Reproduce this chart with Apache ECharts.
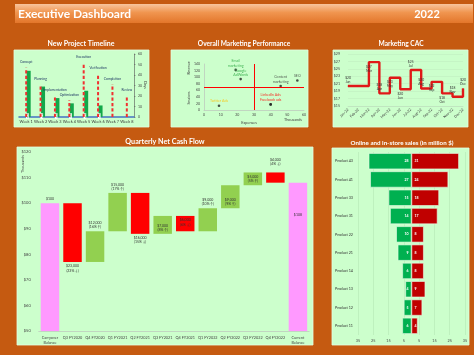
<!DOCTYPE html>
<html><head><meta charset="utf-8">
<script src="https://cdn.jsdelivr.net/npm/echarts@6/dist/echarts.min.js"></script>
<style>html,body{margin:0;padding:0;background:#c55a11;}#c{width:474px;height:355px;}</style>
</head><body><div id="c"></div><script>
// ---------- DATA ----------
const weeks = ['Week 1','Week 2','Week 3','Week 4','Week 5','Week 6','Week 7','Week 8'];
const phases = ['Concept','Planning','Implementation','Optimization','Execution','Verification','Completion','Review'];
const phaseMarks = [47, 30, 20, 16, 51, 41, 31, 19];
const weekProgress = [44, 29, 18, 13, 25, 11, null, null];

const channels = ['Email\nmarketing','Google\nAdWords','Content\nmarketing','SEO','LinkedIn Ads','Facebook ads','Twitter Ads'];
const channelExpenses = [19, 22, 46, 56, 40, 40, 9];
const channelRevenue = [122, 94, 73, 90, 17, 17, 13];

const months = ['Jan-22','Feb-22','Mar-22','Apr-22','May-22','Jun-22','Jul-22','Aug-22','Sep-22','Oct-22','Nov-22','Dec-22'];
const cac = [20.4, 20.4, 26.8, 18.4, 22.6, 19.5, 24.7, 19.7, 21.5, 18.4, 17.5, 19.7];

const quarters = ['Carryover\nBalance','Q3 FY2020','Q4 FY2020','Q1 FY2021','Q2 FY2021','Q3 FY2021','Q4 FY2021','Q1 FY2022','Q2 FY2022','Q3 FY2022','Q4 FY2022','Current\nBalance'];
const carryover = 100;
const cashDeltas = [-23, 12, 15, -16, 7, -6, 9, 9, 5, -4];

const products = ['Product 43','Product 41','Product 33','Product 31','Product 22','Product 21','Product 14','Product 13','Product 12','Product 11'];
const onlineSales = [28, 27, 15, 14, 10, 9, 6, 4, 5, 6];
const storeSales = [31, 24, 18, 17, 8, 8, 8, 9, 7, 4];

// ---------- BUILD ----------
const F = 'Lato, "Open Sans", "DejaVu Sans", sans-serif';
const chart = echarts.init(document.getElementById('c'), null, {renderer:'canvas', width:474, height:355});

// waterfall
const totals = [carryover];
cashDeltas.forEach(d => totals.push(totals[totals.length-1] + d));
const current = totals[totals.length-1];
const wfBase = [0], wfSize = [carryover], wfColor = ['#ff99ff'];
cashDeltas.forEach((d,i) => {
  wfBase.push(Math.min(totals[i], totals[i+1]));
  wfSize.push(Math.abs(d));
  wfColor.push(d < 0 ? '#ff0000' : '#92d050');
});
wfBase.push(0); wfSize.push(current); wfColor.push('#ff99ff');
const wfLabelPos = ['top','bottom','top','top','bottom','insideBottom','insideTop','top','insideBottom','insideBottom','top','insideTop'];
const wfText = i => {
  if (i === 0) return '$' + carryover;
  if (i === quarters.length-1) return '$' + current;
  const d = cashDeltas[i-1];
  const pct = Math.round(Math.abs(d) / totals[i-1] * 100);
  return '$' + Math.abs(d) + ',000\n(' + pct + '% ' + (d < 0 ? '↓' : '↑') + ')';
};

const channelColors = ['#22a33a','#22a33a','#333333','#333333','#ff0000','#ff0000','#ffc000'];
const channelDist = [1, 1, 1, 1, 6, 1.5, 1];
const cacLabelPos = ['top', null, 'bottom','top','bottom','bottom','top','top','bottom','bottom','top','top'];

function txt(t, x, y, size, color, opts) {
  opts = opts || {};
  return {type:'text', x:x, y:y, rotation: opts.rot || 0, z: 5,
    style:{text:t, fill:color, fontSize:size, fontWeight: opts.bold ? 'bold' : 'normal', fontFamily:F,
      align:'center', verticalAlign:'middle', textAlign:'center', textVerticalAlign:'middle'}};
}
function panel(x, y, w, h) {
  return {type:'rect', shape:{x:x, y:y, width:w, height:h}, z:0,
    style:{fill:'#ccffcc', stroke:'#e3ffe3', lineWidth:0.8}};
}

const small = {fontFamily:F, color:'#444'};

const option = {
  backgroundColor:'#c55a11',
  animation:false,
  textStyle:{fontFamily:F},
  graphic:[
    {type:'rect', shape:{x:15, y:4, width:458, height:19}, z:0,
      style:{fill:new echarts.graphic.LinearGradient(0,0,0,1,[
        {offset:0, color:'#f8c49c'},{offset:0.45, color:'#f0954f'},{offset:1, color:'#e3762b'}])}},
    {type:'text', x:18, y:14, z:5, style:{text:'Executive Dashboard', fill:'#fff', fontSize:12, fontWeight:'bold', fontFamily:F, align:'left', verticalAlign:'middle', textAlign:'left', textVerticalAlign:'middle'}},
    txt('2022', 427, 14, 11, '#fff', {bold:true}),
    panel(14, 50, 135, 77),
    panel(171, 50, 137, 77),
    panel(333, 50, 135, 77),
    panel(17, 147, 296, 198),
    panel(332, 148, 137, 197),
    txt('New Project Timeline', 81, 44, 7, '#fff', {bold:true}),
    txt('Overall Marketing Performance', 244, 44, 6.6, '#fff', {bold:true}),
    txt('Marketing CAC', 401, 44, 6.6, '#fff', {bold:true}),
    txt('Quarterly Net Cash Flow', 165, 142, 7.2, '#fff', {bold:true}),
    txt('Online and in-store sales (in million $)', 402, 143, 6.2, '#fff', {bold:true}),
    txt('Days', 145, 85, 3.5, '#444', {rot:-Math.PI/2}),
    txt('Revenue', 189, 68, 3.5, '#444', {rot:Math.PI/2}),
    txt('Sessions', 189, 98, 3.5, '#444', {rot:Math.PI/2}),
    txt('Expenses', 249, 123, 3.8, '#444'),
    txt('Thousands', 293, 120, 3.8, '#444'),
    txt('Thousands', 23, 164, 3.8, '#444', {rot:Math.PI/2})
  ],
  grid:[
    {left:19, top:54, width:115, height:63},
    {left:204, top:64, width:100, height:46},
    {left:348, top:54, width:115, height:52},
    {left:38.7, top:152, width:270.5, height:179},
    {left:358, top:152, width:107, height:183}
  ],
  xAxis:[
    {gridIndex:0, type:'category', data:weeks, axisTick:{show:false},
      axisLine:{lineStyle:{color:'#4472c4', width:1.5}},
      axisLabel:{fontSize:3.9, margin:3, interval:0, color:'#333', fontFamily:F}},
    {gridIndex:1, type:'value', min:0, max:60, interval:10, splitLine:{show:false},
      axisLine:{show:true, onZero:false, lineStyle:{color:'#bbb', width:0.6}}, axisTick:{show:false},
      axisLabel:Object.assign({fontSize:3.5, margin:3}, small)},
    {gridIndex:2, type:'category', data:months, boundaryGap:false, axisTick:{show:false},
      axisLine:{lineStyle:{color:'#bcdcbc', width:0.6}},
      axisLabel:Object.assign({fontSize:3.6, margin:3, rotate:45, interval:0}, small)},
    {gridIndex:3, type:'category', data:quarters, axisTick:{show:false},
      axisLine:{lineStyle:{color:'#bbb', width:0.6}},
      axisLabel:Object.assign({fontSize:3.8, margin:4, interval:0, lineHeight:5}, small)},
    {gridIndex:4, type:'value', min:-35, max:35, interval:10,
      axisLine:{show:false}, axisTick:{show:false},
      splitLine:{show:true, lineStyle:{color:'#b6e8b6', width:0.6}},
      axisLabel:Object.assign({fontSize:3.8, margin:4, formatter:v => Math.abs(v)}, small)}
  ],
  yAxis:[
    {gridIndex:0, type:'value', position:'right', min:0, max:60, interval:10, splitLine:{show:false},
      axisLine:{show:true, lineStyle:{color:'#555', width:0.6}}, axisTick:{show:true, length:1.5, lineStyle:{color:'#555', width:0.5}},
      axisLabel:Object.assign({fontSize:3.5, margin:4}, small)},
    {gridIndex:1, type:'value', min:0, max:140, interval:20, splitLine:{show:false},
      axisLine:{show:true, onZero:false, lineStyle:{color:'#bbb', width:0.6}}, axisTick:{show:false},
      axisLabel:Object.assign({fontSize:3.5, margin:4}, small)},
    {gridIndex:2, type:'value', min:15, max:29, interval:2,
      splitLine:{show:true, lineStyle:{color:'#bfeabf', width:0.5}}, axisLine:{show:false}, axisTick:{show:false},
      axisLabel:Object.assign({fontSize:3.6, margin:8, formatter:v => '$' + v}, small)},
    {gridIndex:3, type:'value', min:50, max:120, interval:10, splitLine:{show:false},
      axisLine:{show:false}, axisTick:{show:false},
      axisLabel:Object.assign({fontSize:4, margin:8, formatter:v => '$' + v}, small)},
    {gridIndex:4, type:'category', data:products, inverse:true,
      axisLine:{show:false, onZero:false}, axisTick:{show:false},
      axisLabel:{fontSize:3.7, margin:5, color:'#333', fontFamily:F}}
  ],
  series:[
    // Timeline
    {type:'pictorialBar', xAxisIndex:0, yAxisIndex:0, data:phaseMarks, symbol:'rect',
      symbolRepeat:true, symbolSize:[2, 3.2], symbolMargin:1.3, symbolClip:true, symbolPosition:'start',
      itemStyle:{color:'#f03030'}, z:3,
      label:{show:true, position:'top', distance:1, fontSize:3.4, color:'#1f3864', fontFamily:F,
        formatter:p => phases[p.dataIndex]}},
    {type:'bar', xAxisIndex:0, yAxisIndex:0, data:weeks.map(() => null), barWidth:5, barGap:'0%'},
    {type:'bar', xAxisIndex:0, yAxisIndex:0, data:weekProgress, barWidth:4, barGap:'0%',
      itemStyle:{color:'#12a84a'},
      label:{show:true, position:'insideBottom', rotate:90, distance:1, fontSize:2.4, color:'#12a84a',
        backgroundColor:'#ffffff', padding:[0.3,0.5], fontFamily:F, formatter:p => p.value + ' d'}},
    // Scatter
    {type:'scatter', xAxisIndex:1, yAxisIndex:1, symbolSize:2.6,
      itemStyle:{color:'#222'},
      data:channelExpenses.map((x,i) => ({value:[x, channelRevenue[i]], name:channels[i],
        label:{color:channelColors[i], distance:channelDist[i]}})),
      label:{show:true, position:'top', fontSize:3.6, lineHeight:4.3, fontFamily:F, formatter:p => p.name},
      markLine:{silent:true, symbol:'none', label:{show:false}, animation:false,
        lineStyle:{color:'#ff0000', width:1, type:'solid'},
        data:[{yAxis:70},{xAxis:30}]}},
    // CAC step line
    {type:'line', xAxisIndex:2, yAxisIndex:2, step:'end', data:cac.map((v,i) => ({value:v,
        label:cacLabelPos[i] ? {show:true, position:cacLabelPos[i]} : {show:false}})),
      symbol:'circle', symbolSize:1, itemStyle:{color:'#e01818'},
      lineStyle:{color:'#e01818', width:2.4},
      label:{fontSize:3.3, lineHeight:3.9, color:'#333', fontFamily:F, distance:2,
        formatter:p => '$' + Math.round(p.value) + '\n' + months[p.dataIndex].slice(0,3)}},
    // Waterfall
    {type:'bar', xAxisIndex:3, yAxisIndex:3, stack:'wf', data:wfBase, barWidth:'82%',
      itemStyle:{color:'rgba(0,0,0,0)'}, silent:true},
    {type:'bar', xAxisIndex:3, yAxisIndex:3, stack:'wf', barWidth:'82%',
      data:wfSize.map((v,i) => ({value:v, itemStyle:{color:wfColor[i]},
        label:{position:wfLabelPos[i], distance: i === quarters.length-1 ? 30 : (i === 10 ? 6 : 2)}})),
      label:{show:true, fontSize:3.5, lineHeight:4.3, color:'#333', fontFamily:F, formatter:p => wfText(p.dataIndex)}},
    // Sales
    {type:'bar', xAxisIndex:4, yAxisIndex:4, stack:'s', data:onlineSales.map(v => -v), barWidth:'88%',
      itemStyle:{color:'#00b050', borderColor:'#e8fbe8', borderWidth:0.6},
      label:{show:true, position:'insideRight', distance:3, fontSize:3.5, fontWeight:'bold', color:'#fff', fontFamily:F,
        formatter:p => Math.abs(p.value)}},
    {type:'bar', xAxisIndex:4, yAxisIndex:4, stack:'s', data:storeSales, barWidth:'88%',
      itemStyle:{color:'#c00000', borderColor:'#e8fbe8', borderWidth:0.6},
      label:{show:true, position:'insideLeft', distance:3, fontSize:3.5, fontWeight:'bold', color:'#fff', fontFamily:F,
        formatter:p => p.value}}
  ]
};
chart.setOption(option);
</script></body></html>
